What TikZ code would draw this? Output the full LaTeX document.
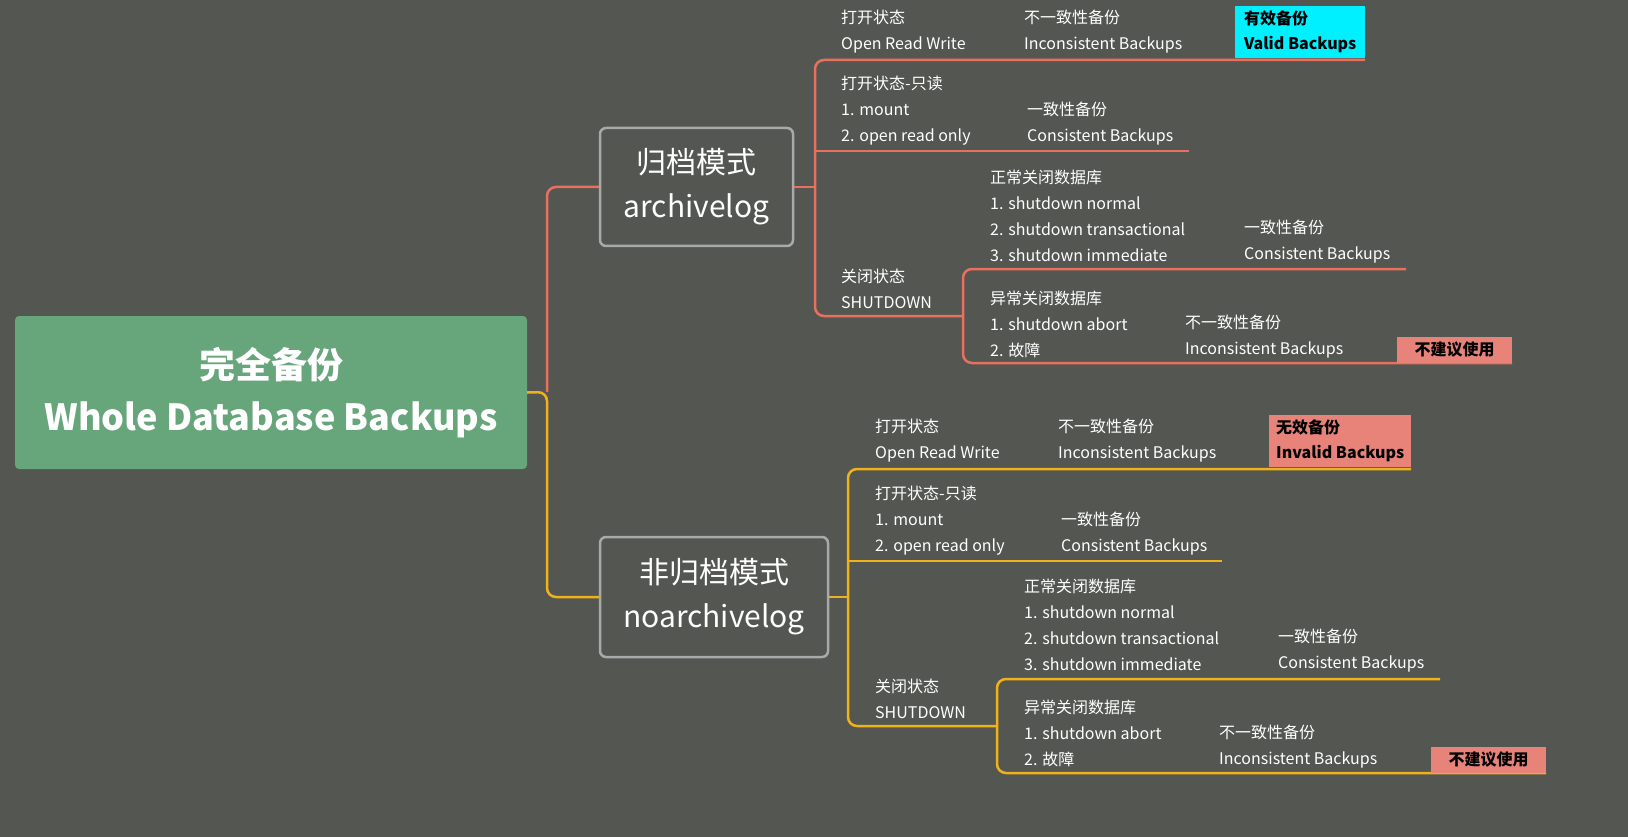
\documentclass[tikz,border=0pt]{standalone}
\usepackage{fontspec}
\setmainfont{Noto Sans CJK SC}
\definecolor{bg}{HTML}{545651}
\definecolor{rl}{HTML}{E8705F}
\definecolor{yl}{HTML}{F0B21A}
\definecolor{bd}{HTML}{A9A9A9}
\definecolor{rootc}{HTML}{67A57B}
\definecolor{cy}{HTML}{00F0FF}
\definecolor{pk}{HTML}{E8837A}
\tikzset{
 t/.style={anchor=west,inner sep=0pt,text=white,font=\fontsize{16}{26}\selectfont,align=left},
 tag/.style={anchor=south west,inner sep=0pt,text=black,font=\bfseries\fontsize{16}{25}\selectfont,align=left},
 modebox/.style={draw=bd,line width=2.5pt,rounded corners=6pt,text=white,font=\fontsize{30}{44}\selectfont,align=center,inner sep=0pt},
 rline/.style={draw=rl,line width=2.5pt,rounded corners=9pt},
 yline/.style={draw=yl,line width=2.5pt,rounded corners=9pt},
}
\begin{document}
\begin{tikzpicture}[x=1pt,y=-1pt]
\fill[bg] (0,0) rectangle (1628,837);
\useasboundingbox (0,0) rectangle (1628,837);
% root
\node[fill=rootc,rounded corners=4pt,minimum width=512pt,minimum height=153pt,text=white,font=\bfseries\fontsize{36}{52}\selectfont,align=center] (root) at (271,392.5) {完全备份\\Whole Database Backups};
\node[modebox,minimum width=193pt,minimum height=118pt] (arc) at (696.5,187) {归档模式\\archivelog};
\node[modebox,minimum width=228pt,minimum height=120pt] (noarc) at (714,597) {非归档模式\\noarchivelog};
\coordinate (j) at (547,392);
\draw[rline] (j) |- (arc.west);
\draw[yline] (root.east) -- (j) |- (noarc.west);
% ===== archivelog tree
\coordinate (a0) at (815,187);
\draw[rline] (arc.east) -- (a0);
\draw[rline] (1365,60) -- (815,60) -- (815,316) -- (963,316);
\draw[rline] (815,151) -- (1189,151);
\draw[rline] (1406,269) -- (963,269) -- (963,363) -- (1512,363);
\node[t] (a1) at (841,32) {打开状态\\Open Read Write};
\node[t] (a2) at (1024,32) {不一致性备份\\Inconsistent Backups};
\node[tag,fill=cy,minimum width=130pt,minimum height=52pt,inner sep=2pt,anchor=south west] (a3) at (1235,58) {有效备份\\Valid Backups};
\node[t] (a4) at (841,111) {打开状态-只读\\1. mount\\2. open read only};
\node[t] (a5) at (1027,124) {一致性备份\\Consistent Backups};
\node[t] (a6) at (841,289) {关闭状态\\SHUTDOWN};
\node[t] (a7) at (990,216) {正常关闭数据库\\1. shutdown normal\\2. shutdown transactional\\3. shutdown immediate};
\node[t] (a8) at (1244,242) {一致性备份\\Consistent Backups};
\node[t] (a9) at (990,324) {异常关闭数据库\\1. shutdown abort\\2. 故障};
\node[t] (a10) at (1185,337) {不一致性备份\\Inconsistent Backups};
\node[tag,fill=pk,minimum width=115pt,minimum height=26pt,inner sep=0pt,align=center] (a11) at (1397,363) {不建议使用};
% ===== noarchivelog tree
\coordinate (b0) at (848,597);
\draw[yline] (noarc.east) -- (b0);
\draw[yline] (1411,469) -- (848,469) -- (848,726) -- (997,726);
\draw[yline] (848,561) -- (1222,561);
\draw[yline] (1440,679) -- (997,679) -- (997,773) -- (1546,773);
\node[t] (b1) at (875,441) {打开状态\\Open Read Write};
\node[t] (b2) at (1058,441) {不一致性备份\\Inconsistent Backups};
\node[tag,fill=pk,minimum width=142pt,minimum height=52pt,inner sep=2pt] (b3) at (1269,467) {无效备份\\Invalid Backups};
\node[t] (b4) at (875,521) {打开状态-只读\\1. mount\\2. open read only};
\node[t] (b5) at (1061,534) {一致性备份\\Consistent Backups};
\node[t] (b6) at (875,699) {关闭状态\\SHUTDOWN};
\node[t] (b7) at (1024,625) {正常关闭数据库\\1. shutdown normal\\2. shutdown transactional\\3. shutdown immediate};
\node[t] (b8) at (1278,651) {一致性备份\\Consistent Backups};
\node[t] (b9) at (1024,733) {异常关闭数据库\\1. shutdown abort\\2. 故障};
\node[t] (b10) at (1219,747) {不一致性备份\\Inconsistent Backups};
\node[tag,fill=pk,minimum width=115pt,minimum height=26pt,inner sep=0pt,align=center] (b11) at (1431,773) {不建议使用};
\end{tikzpicture}
\end{document}
